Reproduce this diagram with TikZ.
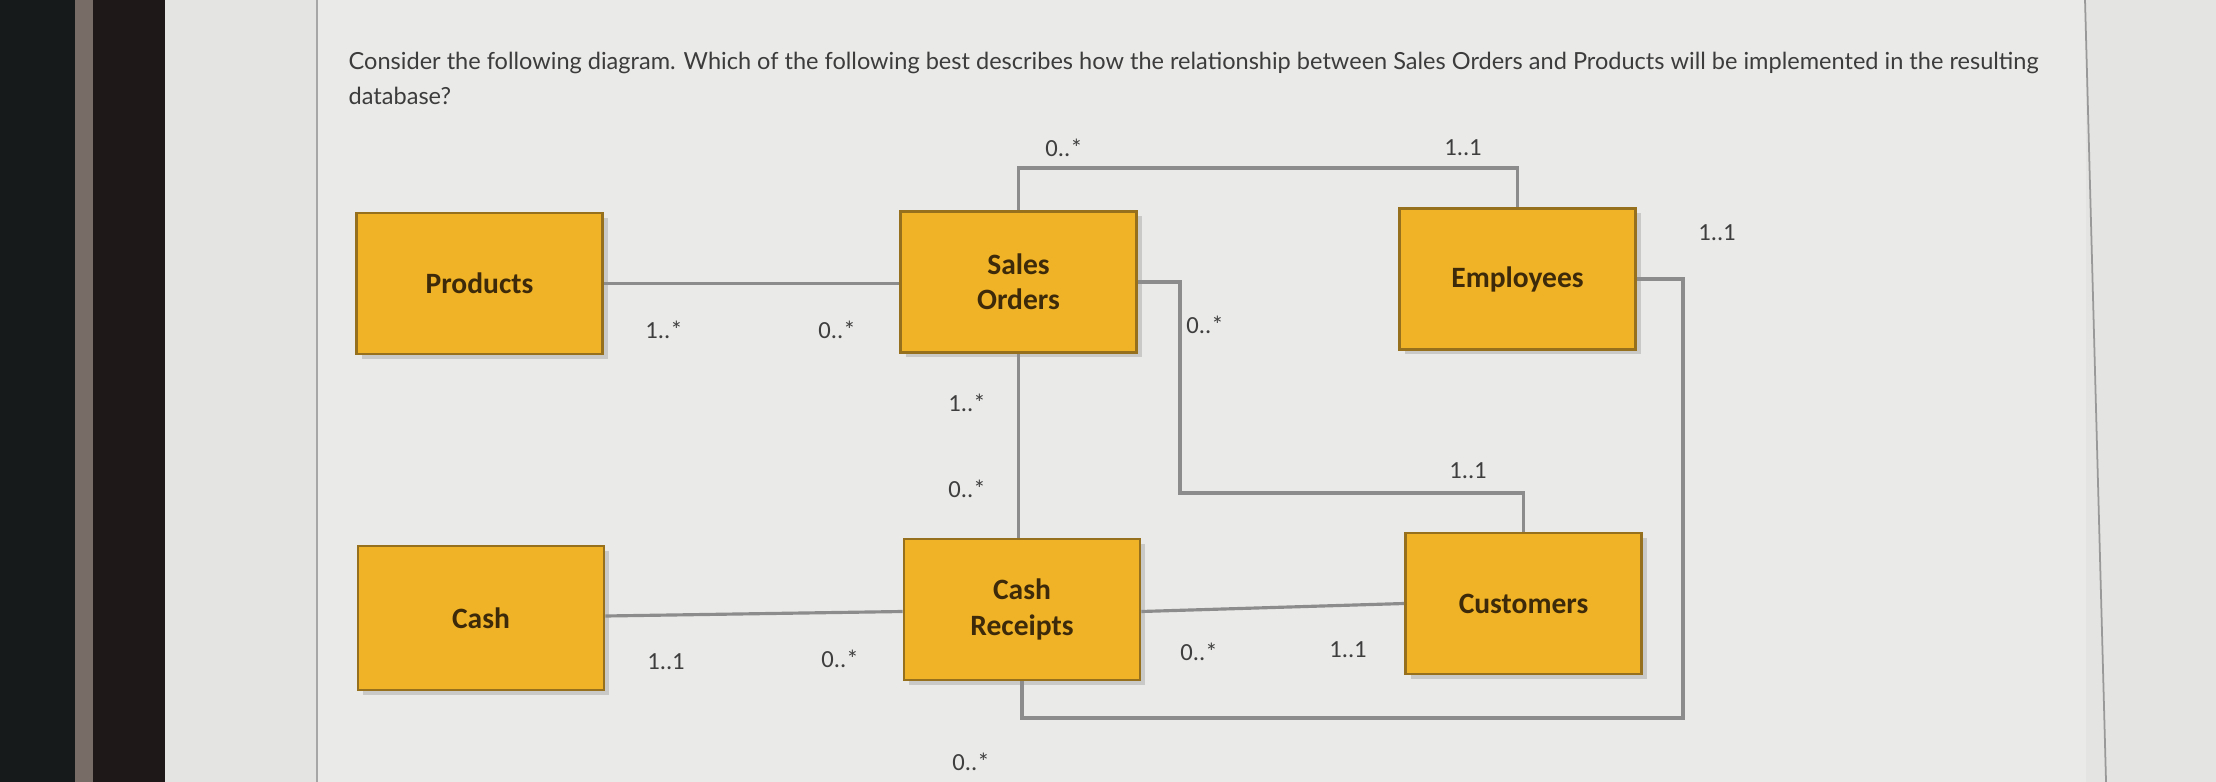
\documentclass[tikz,border=0pt]{standalone}
\usepackage{fontspec}
\setmainfont{Lato}
\newfontfamily\boxfont{Carlito}
\usetikzlibrary{positioning,shadows}

\definecolor{entityfill}{RGB}{240,178,38}
\definecolor{entityedge}{RGB}{150,112,28}
\definecolor{entitytext}{RGB}{60,42,10}
\definecolor{linkgray}{RGB}{140,140,140}
\definecolor{multgray}{RGB}{62,62,62}
\definecolor{askgray}{RGB}{60,60,60}
\definecolor{pagegray}{RGB}{234,234,232}
\definecolor{marginggray}{RGB}{228,228,226}
\definecolor{bezeldark}{RGB}{22,26,27}
\definecolor{bezelrim}{RGB}{120,108,102}
\definecolor{bezelred}{RGB}{30,24,24}

\tikzset{
  entity/.style={draw=entityedge,fill=entityfill,line width=0.8pt,
    minimum width=23.6mm,minimum height=14.1mm,align=center,
    font=\boxfont\bfseries\fontsize{8.4}{10}\selectfont,text=entitytext,
    drop shadow={shadow xshift=0.5mm,shadow yshift=-0.5mm,opacity=0.3}},
  link/.style={draw=linkgray,line width=0.9pt},
  mult/.style={font=\boxfont\fontsize{7}{8}\selectfont,text=multgray,inner sep=0pt},
  ask/.style={anchor=base west,font=\fontsize{6.7}{9}\selectfont,text=askgray,inner sep=0pt}
}

\begin{document}
\begin{tikzpicture}[x=0.1mm,y=0.1mm]
\useasboundingbox (0,0) rectangle (2216,-782);

% screen edge and page
\fill[marginggray] (165,0) rectangle (2216,-782);
\fill[pagegray] (317,0) rectangle (2086,-782);
\fill[bezeldark] (0,0) rectangle (75,-782);
\fill[bezelrim] (75,0) rectangle (93,-782);
\fill[bezelred] (93,0) rectangle (165,-782);
\draw[black!35,line width=0.5pt] (317,0) -- (317,-782);
\draw[black!40,line width=0.5pt] (2085,0) -- (2106,-782);

% question
\node[ask] (question1) at (348,-70) {Consider the following diagram. Which of the following best describes how the relationship between Sales Orders and Products will be implemented in the resulting};
\node[ask] (question2) at (348,-105) {database?};

% entities
\node[entity,minimum width=24.6mm] (products) at (479.5,-283.5) {Products};
\node[entity] (salesorders) at (1018.5,-282) {Sales\\Orders};
\node[entity] (employees) at (1517.5,-279) {Employees};
\node[entity,minimum width=24.6mm,minimum height=14.4mm] (cash) at (481,-618) {Cash};
\node[entity] (cashreceipts) at (1022,-609.5) {Cash\\Receipts};
\node[entity] (customers) at (1523.5,-603.5) {Customers};

% bends of the longer links
\coordinate (toprail) at (1018,-168);
\coordinate (soelbow) at (1180,-493);
\coordinate (botrail) at (1683,-718);

\draw[link] (products.east) -- (products.east -| salesorders.west);
\draw[link] (salesorders.north) |- (toprail -| employees.north) -- (employees.north);
\draw[link] (salesorders.east) -| (soelbow) -| (customers.north);
\draw[link] (salesorders.south) -- (salesorders.south |- cashreceipts.north);
\draw[link] ([yshift=0.2mm]cash.east) -- ([yshift=-0.2mm]cashreceipts.west);
\draw[link] ([yshift=-0.2mm]cashreceipts.east) -- (customers.west);
\draw[link] (employees.east) -| (botrail) -| (cashreceipts.south);

% multiplicities
\node[mult] (so-emp-a) at (1064,-148) {0..*};
\node[mult] (so-emp-b) at (1463,-148) {1..1};
\node[mult] (emp-cr-a) at (1717,-233) {1..1};
\node[mult] (so-cust-a) at (1205,-325) {0..*};
\node[mult] (so-cust-b) at (1468,-471) {1..1};
\node[mult] (prod-so-a) at (664,-330) {1..*};
\node[mult] (prod-so-b) at (837,-330) {0..*};
\node[mult] (so-cr-a) at (967,-403) {1..*};
\node[mult] (so-cr-b) at (967,-489) {0..*};
\node[mult] (cash-cr-a) at (666,-662) {1..1};
\node[mult] (cash-cr-b) at (840,-659) {0..*};
\node[mult] (cr-cust-a) at (1199,-652) {0..*};
\node[mult] (cr-cust-b) at (1348,-650) {1..1};
\node[mult] (emp-cr-b) at (971,-762) {0..*};
\end{tikzpicture}
\end{document}
